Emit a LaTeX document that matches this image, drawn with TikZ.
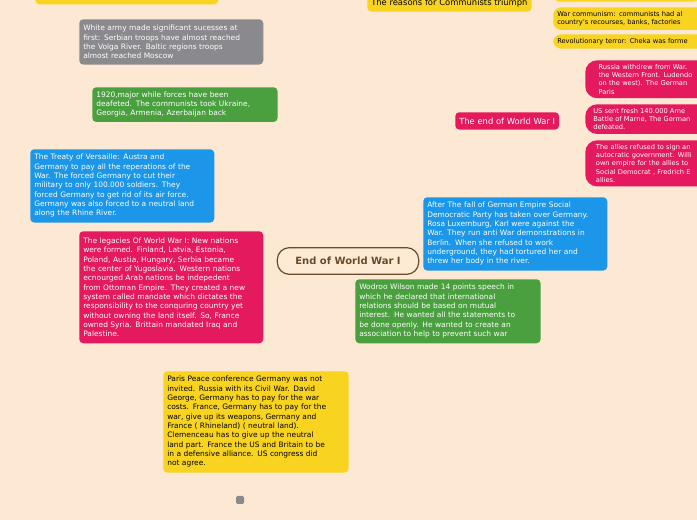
\documentclass[tikz,border=0pt]{standalone}
\usepackage{fontspec}
\setmainfont{DejaVu Sans}
\pgfdeclarelayer{background}
\pgfsetlayers{background,main}
\definecolor{bg}{HTML}{FDE9D3}
\definecolor{cy}{HTML}{F8D31F}
\definecolor{cg}{HTML}{8A8A8E}
\definecolor{cgr}{HTML}{4AA03F}
\definecolor{cb}{HTML}{1C96E8}
\definecolor{cr}{HTML}{E5195E}
\definecolor{cbr}{HTML}{6B4A2A}
\definecolor{cfill}{HTML}{FDEBD5}
\begin{document}
\begin{tikzpicture}[x=0.75pt,y=-0.75pt,
  box/.style={anchor=north west,rounded corners=3pt,inner sep=3pt,align=left,font=\fontsize{5.6}{7}\selectfont,text=white},
  main/.style={line width=2.4pt},
  thin/.style={line width=0.8pt}]
\clip (0,0) rectangle (697,520);
\fill[bg] (0,0) rectangle (697,520);
% left nodes
\node[box,fill=cy,minimum width=183pt*0.75,minimum height=16*0.75pt] (tl) at (35,-12) {};
\node[box,fill=cg,text width=132pt,minimum height=34pt] (white) at (79,19) {White army made significant sucesses at\\first: Serbian troops have almost reached\\the Volga River. Baltic regions troops\\almost reached Moscow};
\node[box,fill=cgr,text width=133pt,minimum height=26pt] (n1920) at (92,87) {1920,major while forces have been\\deafeted. The communists took Ukraine,\\Georgia, Armenia, Azerbaijan back};
\node[box,fill=cb,text width=132pt,minimum height=55pt] (treaty) at (30,149) {The Treaty of Versaille: Austra and\\Germany to pay all the reperations of the\\War. The forced Germany to cut their\\military to only 100.000 soldiers. They\\forced Germany to get rid of its air force.\\Germany was also forced to a neutral land\\along the Rhine River.};
\node[box,fill=cr,text width=132pt,minimum height=84pt] (legacy) at (79,231) {The legacies Of World War I: New nations\\were formed. Finland, Latvia, Estonia,\\Poland, Austia, Hungary, Serbia became\\the center of Yugoslavia. Western nations\\ecnourged Arab nations be indepedent\\from Ottoman Empire. They created a new\\system called mandate which dictates the\\responsibility to the conquring country yet\\without owning the land itself. So, France\\owned Syria. Brittain mandated Iraq and\\Palestine.};
\node[box,fill=cy,text=black,text width=133pt,minimum height=76pt] (paris) at (163,371) {Paris Peace conference Germany was not\\invited. Russia with its Civil War. David\\George, Germany has to pay for the war\\costs. France, Germany has to pay for the\\war, give up its weapons, Germany and\\France ( Rhineland) ( neutral land).\\Clemenceau has to give up the neutral\\land part. France the US and Britain to be\\in a defensive alliance. US congress did\\not agree.};
\node[anchor=center,fill=cg,rounded corners=1pt,minimum width=6pt,minimum height=6pt,inner sep=0pt] (sq) at (240,500) {};
% center
\node[draw=cbr,line width=0.9pt,fill=cfill,rounded corners=9pt,minimum width=106pt,minimum height=20pt,font=\bfseries\fontsize{7.5}{9}\selectfont,text=cbr] (c) at (348,261) {End of World War I};
% right
\node[box,fill=cy,text=black,font=\fontsize{6.3}{8}\selectfont,minimum width=120pt,minimum height=13pt] (reasons) at (367,-6) {The reasons for Communists triumph};
\node[box,fill=cy,minimum width=110pt,minimum height=10pt,rounded corners=5pt] (y1) at (553,-12) {};
\node[box,fill=cy,text=black,text width=140pt,font=\fontsize{5}{6.2}\selectfont,rounded corners=6pt] (y2) at (553,7) {War communism: communists had al\\country's recourses, banks, factories};
\node[box,fill=cy,text=black,text width=140pt,font=\fontsize{5}{6.2}\selectfont,rounded corners=6pt] (y3) at (553,34) {Revolutionary terror: Cheka was forme};
\node[box,fill=cr,font=\fontsize{6.3}{8}\selectfont,minimum width=76pt,minimum height=13pt] (endw) at (455,112) {The end of World War I};
\node[box,fill=cr,text width=140pt,font=\fontsize{5}{6.2}\selectfont,rounded corners=9pt,inner xsep=10pt] (r1) at (585,60) {Russia withdrew from War.\\the Western Front. Ludendo\\on the west). The German\\Paris};
\node[box,fill=cr,text width=140pt,font=\fontsize{5}{6.2}\selectfont,rounded corners=9pt,inner xsep=6pt] (r2) at (585,104) {US  sent fresh 140.000 Ame\\Battle of Marne, The German\\defeated.};
\node[box,fill=cr,text width=140pt,font=\fontsize{5}{6.2}\selectfont,rounded corners=9pt,inner xsep=8pt] (r3) at (585,140) {The allies refused to sign an\\autocratic government. Willi\\own empire for the allies to\\Social Democrat , Fredrich E\\allies.};
\node[box,fill=cb,text width=132pt,minimum height=55pt] (after) at (423,197) {After The fall of German Empire Social\\Democratic Party has taken over Germany.\\Rosa Luxemburg, Karl were against the\\War. They run anti War demonstrations in\\Berlin. When she refused to work\\underground, they had tortured her and\\threw her body in the river.};
\node[box,fill=cgr,text width=133pt,minimum height=48pt] (wilson) at (355,279) {Wodroo Wilson made 14 points speech in\\which he declared that international\\relations should be based on mutual\\interest. He wanted all the statements to\\be done openly. He wanted to create an\\association to help to prevent such war};
\begin{pgfonlayer}{background}
\draw[main,cy] (c.center) ++(-15,-5) .. controls (320,120) and (290,20) .. (tl.south east);
\draw[main,cg] (c.center) ++(-12,-5) .. controls (305,130) and (295,45) .. (white.east);
\draw[main,cgr] (c.center) ++(-20,-5) .. controls (305,150) and (300,95) .. (n1920.east);
\draw[main,cb] (c.center) ++(-50,-5) .. controls (270,200) and (250,190) .. (treaty.east);
\draw[main,cr] (c.center) ++(-55,8) .. controls (280,285) and (275,285) .. (legacy.east);
\draw[main,cy] (c.center) ++(5,-5) .. controls (355,100) and (355,5) .. (reasons.west);
\draw[main,cr] (c.center) ++(30,-5) .. controls (400,150) and (430,122) .. (endw.west);
\draw[main,cb] (c.center) ++(60,0) .. controls (415,245) and (418,244) .. (after.west);
\draw[main,cgr] (c) -- (wilson);
\draw[main,cy] (c.center) ++(-3,8) .. controls (352,330) and (355,360) .. (paris.north -| 355,0);
\draw[main,cg] (c.center) ++(-8,8) .. controls (310,380) and (290,490) .. (sq.east);
\draw[thin,cy] (reasons.east) .. controls (545,3) and (540,-2) .. (y1.west);
\draw[thin,cy] (reasons.east) .. controls (545,3) and (540,18) .. (y2.west);
\draw[thin,cy] (reasons.east) .. controls (545,3) and (540,41) .. (y3.west);
\draw[thin,cr] (endw.east) .. controls (575,121) and (570,79) .. (r1.west);
\draw[thin,cr] (endw.east) .. controls (575,121) and (575,119) .. (r2.west);
\draw[thin,cr] (endw.east) .. controls (575,121) and (570,163) .. (r3.west);
\end{pgfonlayer}
\end{tikzpicture}
\end{document}
